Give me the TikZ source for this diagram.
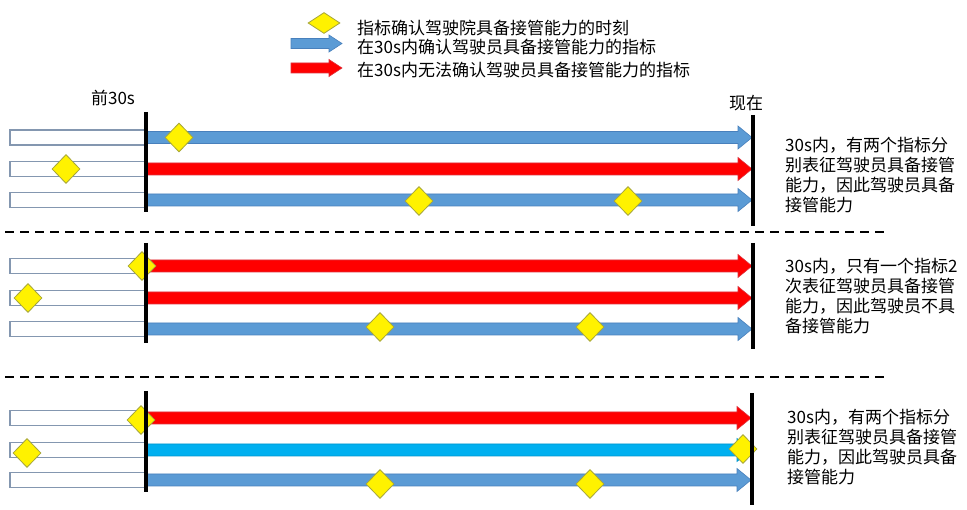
\documentclass[tikz,border=0pt]{standalone}
\usepackage{fontspec}
\setmainfont{Noto Sans CJK SC}
\usetikzlibrary{shapes.geometric}

\definecolor{barblue}{RGB}{91,155,213}
\definecolor{barbluedark}{RGB}{72,128,188}
\definecolor{barred}{RGB}{255,0,0}
\definecolor{barreddark}{RGB}{222,50,60}
\definecolor{barcyan}{RGB}{0,176,240}
\definecolor{slotgray}{RGB}{132,151,176}
\definecolor{momentedge}{RGB}{166,166,58}

% block arrow: style, x start, x tip, y, half shaft, half head, head length
\newcommand{\blockarrow}[7]{%
  \draw[#1] (#2,#4-#5) -- (#3-#7,#4-#5) -- (#3-#7,#4-#6) -- (#3,#4)
    -- (#3-#7,#4+#6) -- (#3-#7,#4+#5) -- (#2,#4+#5) -- cycle;}

\begin{document}
\begin{tikzpicture}[x=1pt,y=-1pt,
  slot/.style={draw=slotgray,line width=1.2pt,fill=white},
  blue bar/.style={fill=barblue,draw=barbluedark,line width=0.6pt},
  red bar/.style={fill=barred,draw=barreddark,line width=0.6pt},
  cyan bar/.style={fill=barcyan,draw=barcyan!85!black,line width=0.6pt},
  moment/.style={diamond,fill=yellow,draw=momentedge,line width=0.8pt,
    inner sep=0pt,minimum width=28pt,minimum height=29pt},
  edgeline/.style={line width=3.5pt},
  divider/.style={line width=2.8pt,dash pattern=on 9pt off 6pt},
  txt/.style={font=\fontsize{17}{20}\selectfont,inner sep=0pt},
  note/.style={txt,align=left,anchor=north west}]
  \useasboundingbox[fill=white] (0,0) rectangle (967,510);

  % Legend
  \node[moment,minimum width=32pt,minimum height=21pt] (key moment) at (324,23) {};
  \blockarrow{blue bar}{291}{342}{43.5}{5}{8.5}{13}
  \blockarrow{red bar}{291}{342}{68}{5}{8.5}{13}
  \node[txt,anchor=west] (key moment text) at (357,28) {指标确认驾驶院具备接管能力的时刻};
  \node[txt,anchor=west] (key blue text) at (357,47.5) {在30s内确认驾驶员具备接管能力的指标};
  \node[txt,anchor=west] (key red text) at (357,70) {在30s内无法确认驾驶员具备接管能力的指标};

  % Time marks
  \node[txt] (before) at (113,98) {前30s};
  \node[txt] (now) at (746,103) {现在};

  % Panel 1
  \foreach \y in {137.5,169,200}
    \draw[slot] (10,\y-7.5) rectangle (146,\y+7.5);
  \blockarrow{blue bar}{147}{752}{137.5}{6}{11.5}{14}
  \blockarrow{red bar}{147}{752}{169}{6}{11.5}{14}
  \blockarrow{blue bar}{147}{752}{200}{6}{11.5}{14}
  \node[moment] (p1 a) at (179,137.5) {};
  \node[moment] (p1 b) at (66,169) {};
  \node[moment] (p1 c) at (419,201) {};
  \node[moment] (p1 d) at (628,201) {};
  \draw[edgeline] (146,112) -- (146,212);
  \draw[edgeline] (753,115) -- (753,226);
  \node[note] (p1 note) at (785,137) {30s内，有两个指标分\\别表征驾驶员具备接管\\能力，因此驾驶员具备\\接管能力};

  \draw[divider] (5,232) -- (885,232);

  % Panel 2
  \foreach \y in {266,298,329}
    \draw[slot] (10,\y-7.5) rectangle (146,\y+7.5);
  \blockarrow{red bar}{147}{752}{266}{6}{11.5}{14}
  \blockarrow{red bar}{147}{752}{298}{6}{11.5}{14}
  \blockarrow{blue bar}{147}{752}{329}{6}{11.5}{14}
  \node[moment] (p2 a) at (142,266) {};
  \node[moment] (p2 b) at (28,298) {};
  \node[moment] (p2 c) at (380,327) {};
  \node[moment] (p2 d) at (590,327) {};
  \draw[edgeline] (146,243) -- (146,343);
  \draw[edgeline] (753,243) -- (753,349);
  \node[note] (p2 note) at (785,258) {30s内，只有一个指标2\\次表征驾驶员具备接管\\能力，因此驾驶员不具\\备接管能力};

  \draw[divider] (5,377) -- (885,377);

  % Panel 3
  \foreach \y in {418,450,480}
    \draw[slot] (10,\y-7.5) rectangle (146,\y+7.5);
  \blockarrow{red bar}{147}{751}{418}{6}{11.5}{14}
  \blockarrow{cyan bar}{147}{751}{450}{6}{11.5}{14}
  \blockarrow{blue bar}{147}{751}{480}{6}{11.5}{14}
  \node[moment] (p3 a) at (141,420) {};
  \node[moment] (p3 b) at (27,453) {};
  \node[moment] (p3 c) at (743,449) {};
  \node[moment] (p3 d) at (380,484) {};
  \node[moment] (p3 e) at (590,484) {};
  \draw[edgeline] (146,391) -- (146,492);
  \draw[edgeline] (752,393) -- (752,505);
  \node[note] (p3 note) at (787,409) {30s内，有两个指标分\\别表征驾驶员具备接管\\能力，因此驾驶员具备\\接管能力};
\end{tikzpicture}
\end{document}
